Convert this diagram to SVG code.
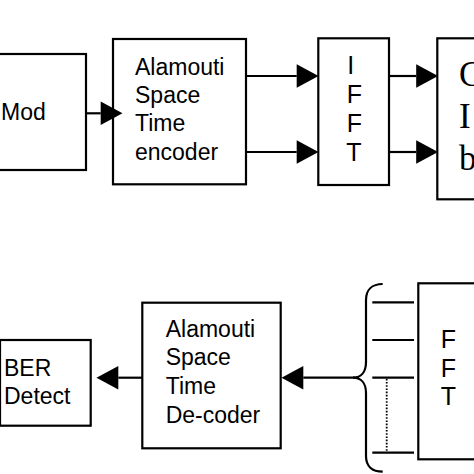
<svg xmlns="http://www.w3.org/2000/svg" width="474" height="474" viewBox="0 0 474 474">
<defs>
<style>
.box{fill:#fff;stroke:#000;stroke-width:2.2}
.t{font-family:"Liberation Sans",Arial,sans-serif;font-size:23px;fill:#000}
.l{font-family:"Liberation Sans",Arial,sans-serif;font-size:25px;fill:#000;text-anchor:middle}
.s{font-family:"Liberation Serif","Times New Roman",serif;font-size:35px;fill:#000}
.ln{stroke:#000;stroke-width:2.2;fill:none}
</style>
<marker id="ah" markerUnits="userSpaceOnUse" markerWidth="23" markerHeight="24" refX="0" refY="11.7" orient="auto" overflow="visible">
<path d="M0,0 L21.8,11.7 L0,23.4 z" fill="#000"/>
</marker>
</defs>
<rect width="474" height="474" fill="#fff"/>
<g id="mod">
<rect class="box" x="-20" y="54" width="106" height="116"/>
<text class="t" x="1" y="120">Mod</text>
</g>
<g id="encoder">
<rect class="box" x="113" y="39" width="133" height="145.3"/>
<text class="t" x="135" y="74.8">Alamouti</text>
<text class="t" x="135" y="103">Space</text>
<text class="t" x="135" y="131.3">Time</text>
<text class="t" x="135" y="160">encoder</text>
</g>
<g id="ifft">
<rect class="box" x="318.3" y="38.3" width="70.7" height="146.7"/>
<text class="l" x="350.7" y="74.3">I</text>
<text class="l" x="354.3" y="103.3">F</text>
<text class="l" x="354.3" y="131.7">F</text>
<text class="l" x="354" y="161">T</text>
</g>
<g id="cpins">
<rect class="box" x="437.3" y="38.3" width="60" height="161"/>
<text class="s" x="459" y="86">C</text>
<text class="s" x="459" y="127.7">I</text>
<text class="s" x="459" y="170">b</text>
</g>
<g id="ber">
<rect class="box" x="0" y="340" width="90.7" height="85.7"/>
<text class="t" x="4" y="375.7">BER</text>
<text class="t" x="4" y="404.3">Detect</text>
</g>
<g id="decoder">
<rect class="box" x="142.3" y="302.7" width="138.4" height="145.6"/>
<text class="t" x="165.7" y="336.7">Alamouti</text>
<text class="t" x="165.7" y="365.3">Space</text>
<text class="t" x="165.7" y="394">Time</text>
<text class="t" x="165.7" y="422.7">De-coder</text>
</g>
<g id="fft">
<rect class="box" x="418.3" y="283.3" width="80" height="176"/>
<text class="l" x="448.5" y="348.3">F</text>
<text class="l" x="448.5" y="376.7">F</text>
<text class="l" x="448.5" y="405">T</text>
</g>
<g id="connectors">
<line class="ln" x1="86" y1="113.3" x2="100.7" y2="113.3" marker-end="url(#ah)"/>
<line class="ln" x1="246" y1="76" x2="296.7" y2="76" marker-end="url(#ah)"/>
<line class="ln" x1="246" y1="152" x2="296.7" y2="152" marker-end="url(#ah)"/>
<line class="ln" x1="389" y1="76" x2="416.2" y2="76" marker-end="url(#ah)"/>
<line class="ln" x1="389" y1="152" x2="416.2" y2="152" marker-end="url(#ah)"/>
<line class="ln" x1="142.3" y1="377.7" x2="118.3" y2="377.7" marker-end="url(#ah)"/>
<line class="ln" x1="355" y1="377.7" x2="303.3" y2="377.7" marker-end="url(#ah)"/>
<path class="ln" d="M382.7,284 C372,284 366,290 366,300 L366,362 C366,372 361,377.7 353,377.7 C361,377.7 366,383 366,393 L366,456 C366,466 372,471.7 382.7,471.7"/>
<line class="ln" x1="372.3" y1="302.3" x2="414" y2="302.3"/>
<line class="ln" x1="372.3" y1="340" x2="414" y2="340"/>
<line class="ln" x1="372.3" y1="377.7" x2="414" y2="377.7"/>
<line class="ln" x1="372.3" y1="452.7" x2="414" y2="452.7"/>
<line x1="386.7" y1="378.8" x2="386.7" y2="451.6" stroke="#000" stroke-width="1.8" stroke-dasharray="1.6,1.6"/>
</g>
</svg>
